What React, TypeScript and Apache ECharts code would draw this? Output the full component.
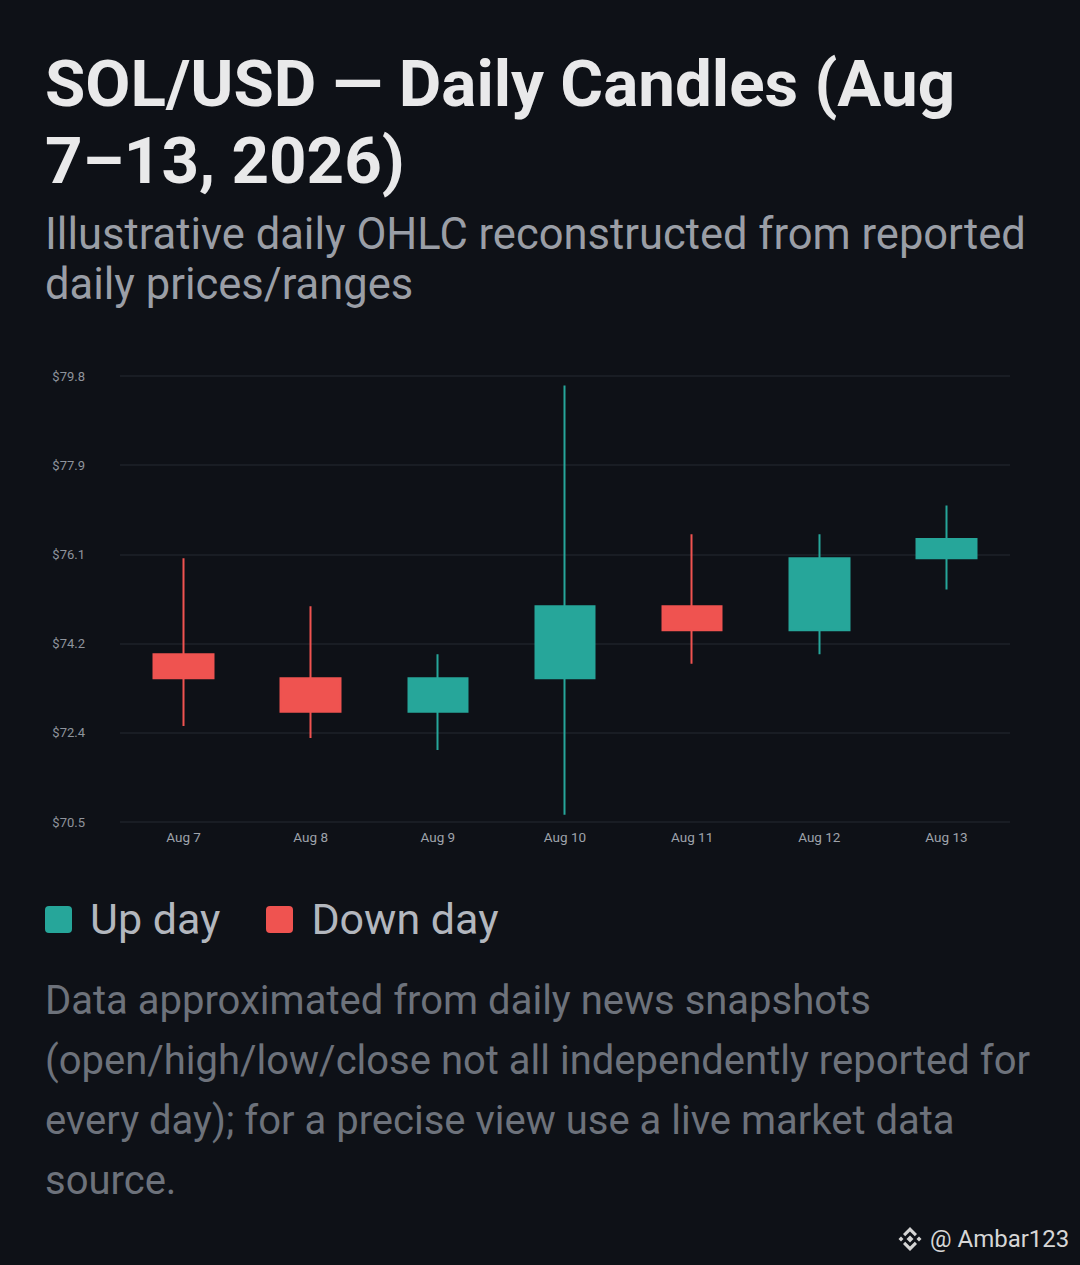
import React, { useEffect, useRef } from "react";
import * as echarts from "echarts";

const categories = ["Aug 7", "Aug 8", "Aug 9", "Aug 10", "Aug 11", "Aug 12", "Aug 13"];
// [open, close, low, high]
const opens = [74.0, 73.5, 72.8, 73.5, 75.0, 74.5, 76.0];
const closes = [73.5, 72.8, 73.5, 75.0, 74.5, 76.0, 76.4];
const lows = [72.5, 72.25, 72.0, 70.65, 73.8, 74.0, 75.35];
const highs = [76.0, 75.0, 74.0, 79.6, 76.5, 76.5, 77.1];
const yTickLabels = ["$70.5", "$72.4", "$74.2", "$76.1", "$77.9", "$79.8"];
const yMin = 70.5;
const yMax = 79.8;

const UP = "#26a69a";
const DOWN = "#ef5350";
const BG = "#0e1117";
const FONT = "Roboto, 'Noto Sans', sans-serif";

function Chart() {
  const ref = useRef<HTMLDivElement>(null);
  useEffect(() => {
    if (!ref.current) return;
    const chart = echarts.init(ref.current, undefined, { renderer: "svg" });
    const data = categories.map((_, i) => [opens[i], closes[i], lows[i], highs[i]]);
    chart.setOption({
      animation: false,
      backgroundColor: "transparent",
      textStyle: { fontFamily: FONT },
      grid: { left: 120, right: 70, top: 36, bottom: 48 },
      xAxis: {
        type: "category",
        data: categories,
        boundaryGap: true,
        axisLine: { show: false },
        axisTick: { show: false },
        splitLine: { show: false },
        axisLabel: { color: "#9ea3ab", fontSize: 13.5, margin: 8, fontFamily: FONT },
      },
      yAxis: [
        {
          type: "value",
          min: 0,
          max: yTickLabels.length - 1,
          interval: 1,
          axisLine: { show: false },
          axisTick: { show: false },
          splitLine: { show: true, lineStyle: { color: "#1e222a", width: 1.5 } },
          axisLabel: {
            color: "#8f949c",
            fontSize: 13,
            margin: 35,
            fontFamily: FONT,
            formatter: (v: number) => yTickLabels[Math.round(v)] ?? "",
          },
        },
        {
          type: "value",
          min: yMin,
          max: yMax,
          show: false,
          splitLine: { show: false },
        },
      ],
      series: [
        {
          type: "candlestick",
          yAxisIndex: 1,
          data,
          barWidth: 60,
          itemStyle: {
            color: UP,
            color0: DOWN,
            borderColor: UP,
            borderColor0: DOWN,
            borderWidth: 2,
          },
        },
      ],
    });
    return () => chart.dispose();
  }, []);
  return <div ref={ref} style={{ position: "absolute", left: 0, top: 340, width: 1080, height: 530 }} />;
}

function BinanceLogo() {
  return (
    <svg width="26" height="26" viewBox="0 0 26 26" style={{ position: "absolute", left: 897, top: 1226 }}>
      <g fill="#d4d4d4">
        <polygon points="13,9.5 16.5,13 13,16.5 9.5,13" />
        <polygon points="4,10.5 6.5,13 4,15.5 1.5,13" />
        <polygon points="22,10.5 24.5,13 22,15.5 19.5,13" />
        <polygon points="13,1 20,8 17.8,10.2 13,5.4 8.2,10.2 6,8" />
        <polygon points="13,25 20,18 17.8,15.8 13,20.6 8.2,15.8 6,18" />
      </g>
    </svg>
  );
}

export default function App() {
  useEffect(() => {
    document.body.style.margin = "0";
    document.body.style.background = BG;
  }, []);
  return (
    <div
      style={{
        position: "absolute",
        left: 0,
        top: 0,
        width: 1080,
        height: 1265,
        background: BG,
        overflow: "hidden",
        fontFamily: FONT,
      }}
    >
      <div
        style={{
          position: "absolute",
          left: 45,
          top: 45,
          width: 990,
          fontSize: 65.5,
          lineHeight: "77px",
          fontWeight: 700,
          color: "#e9e9ea",
        }}
      >
        SOL/USD — Daily Candles (Aug 7–13, 2026)
      </div>
      <div
        style={{
          position: "absolute",
          left: 45,
          top: 210,
          width: 990,
          fontSize: 43.5,
          lineHeight: "50px",
          color: "#9a9ea6",
        }}
      >
        Illustrative daily OHLC reconstructed from reported daily prices/ranges
      </div>
      <Chart />
      <div style={{ position: "absolute", left: 45, top: 894, height: 50, display: "flex", alignItems: "center" }}>
        <span style={{ display: "inline-block", width: 27, height: 27, borderRadius: 4, background: UP, marginRight: 18 }} />
        <span style={{ fontSize: 43, color: "#b3b7be", marginRight: 46 }}>Up day</span>
        <span style={{ display: "inline-block", width: 27, height: 27, borderRadius: 4, background: DOWN, marginRight: 18 }} />
        <span style={{ fontSize: 43, color: "#b3b7be" }}>Down day</span>
      </div>
      <div
        style={{
          position: "absolute",
          left: 45,
          top: 971,
          width: 990,
          fontSize: 40,
          lineHeight: "60px",
          color: "#6d727b",
        }}
      >
        Data approximated from daily news snapshots (open/high/low/close not all independently reported for every day); for a precise view use a live market data source.
      </div>
      <BinanceLogo />
      <div style={{ position: "absolute", left: 930, top: 1224, fontSize: 24, lineHeight: "30px", color: "#d6d6d6", whiteSpace: "nowrap" }}>
        @ Ambar123
      </div>
    </div>
  );
}
